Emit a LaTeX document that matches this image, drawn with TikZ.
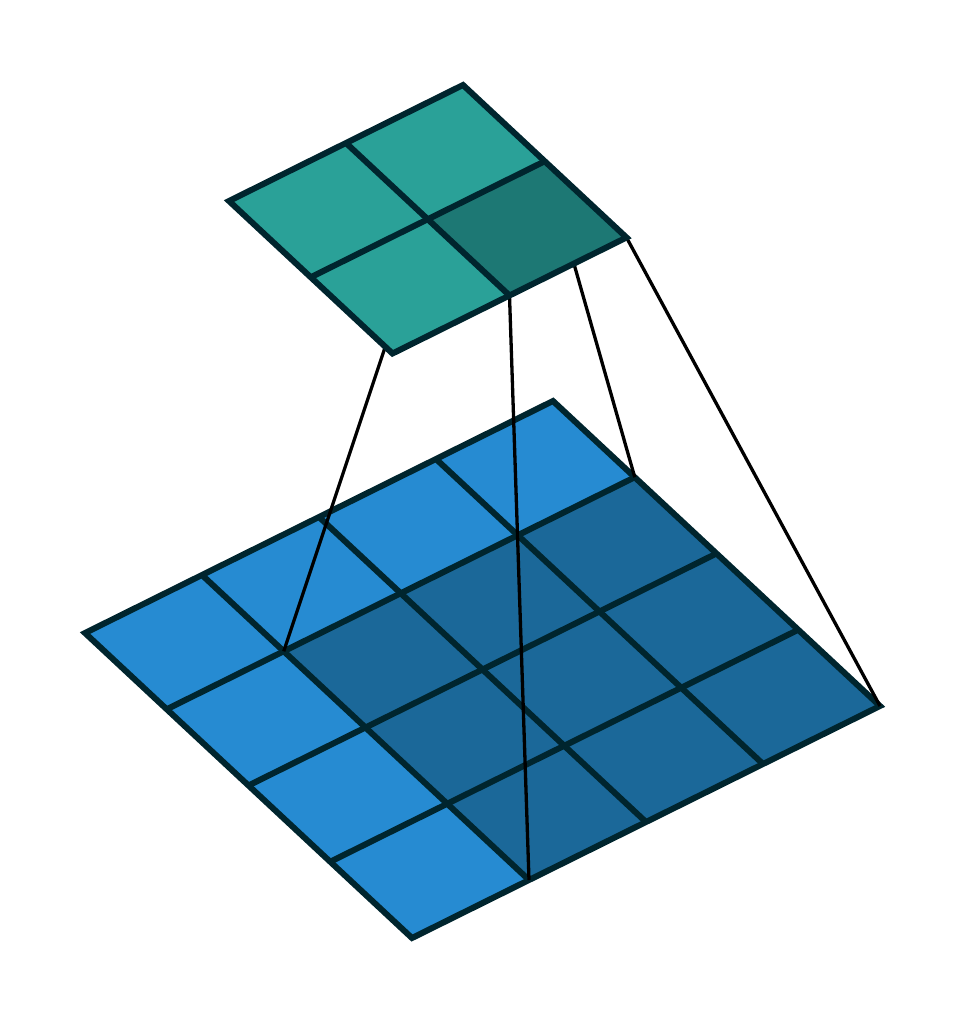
\documentclass[tikz,border=0pt]{standalone}
\definecolor{lb}{HTML}{268BD2}
\definecolor{db}{HTML}{1B6899}
\definecolor{lt}{HTML}{2AA198}
\definecolor{dt}{HTML}{1D7874}
\definecolor{edgec}{HTML}{00252E}
\tikzset{gridline/.style={draw=edgec,line width=3pt,line join=miter,line cap=butt},
  conn/.style={draw=black,line width=1.65pt}}
\begin{document}
\begin{tikzpicture}[x=0.5pt,y=-0.5pt]
\useasboundingbox (0,0) rectangle (966,1024);
% bottom grid
\begin{scope}[shift={(42.5pt,-316.5pt)},x={(58.5pt,29pt)},y={(40.875pt,-38.125pt)}]
  \fill[lb] (0,0) -- (4,0) -- (4,4) -- (0,4) -- cycle;
  \fill[db] (1,1) -- (4,1) -- (4,4) -- (1,4) -- cycle;
  \foreach \k in {1,2,3} {
    \draw[gridline] (\k,0) -- (\k,4);
    \draw[gridline] (0,\k) -- (4,\k);
  }
  \draw[gridline] (0,0) -- (4,0) -- (4,4) -- (0,4) -- cycle;
  \coordinate (b11) at (1,1);
  \coordinate (b41) at (4,1);
  \coordinate (b44) at (4,4);
  \coordinate (b14) at (1,4);
\end{scope}
% top grid coordinates
\begin{scope}[shift={(114.5pt,-100.5pt)},x={(58.5pt,29pt)},y={(40.875pt,-38.125pt)}]
  \coordinate (t11) at (1,1);
  \coordinate (t21) at (2,1);
  \coordinate (t22) at (2,2);
  \coordinate (t12) at (1,2);
\end{scope}
% connectors
\draw[conn] (t11) -- (b11);
\draw[conn] (t21) -- (b41);
\draw[conn] (t22) -- (b44);
\draw[conn] (t12) -- (b14);
% top grid
\begin{scope}[shift={(114.5pt,-100.5pt)},x={(58.5pt,29pt)},y={(40.875pt,-38.125pt)}]
  \fill[lt] (0,0) -- (2,0) -- (2,2) -- (0,2) -- cycle;
  \fill[dt] (1,1) -- (2,1) -- (2,2) -- (1,2) -- cycle;
  \draw[gridline] (1,0) -- (1,2);
  \draw[gridline] (0,1) -- (2,1);
  \draw[gridline] (0,0) -- (2,0) -- (2,2) -- (0,2) -- cycle;
\end{scope}
\end{tikzpicture}
\end{document}
